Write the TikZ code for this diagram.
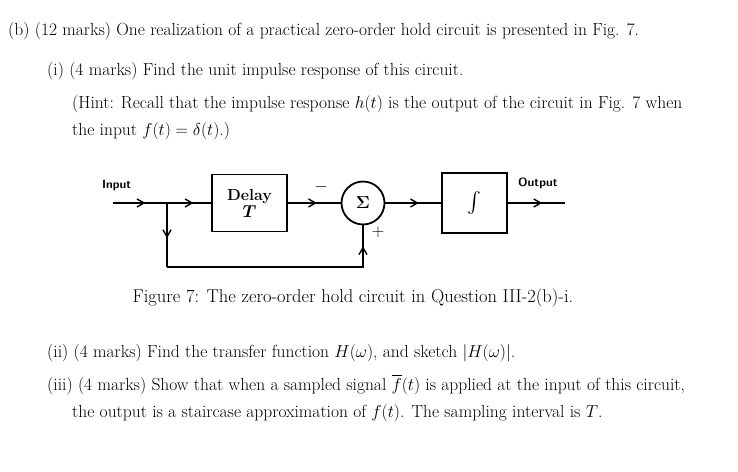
\documentclass[tikz,border=0pt]{standalone}
\usepackage{amsmath}
\usetikzlibrary{arrows.meta,decorations.markings}
\begin{document}
\begin{tikzpicture}[x=1pt,y=-1pt,
 txt/.style={anchor=base west,inner sep=0,font=\fontsize{17.5}{19}\selectfont},
 blk/.style={draw,line width=1.8pt,minimum width=#1,inner sep=0},
 lbl/.style={font=\sffamily\bfseries\fontsize{12}{12}\selectfont,inner sep=0},
 wire/.style={line width=1.6pt},
 mid/.style={postaction={decorate},decoration={markings,mark=at position #1 with {\arrow{Straight Barb[length=7pt,width=8pt,line width=1.4pt]}}}}]
\useasboundingbox (0,0) rectangle (738,471);
\fill[white] (0,0) rectangle (738,471);
\node[txt] (l1) at (8,35) {(b) (12 marks) One realization of a practical zero-order hold circuit is presented in Fig. 7.};
\node[txt] (l2) at (47,75) {(i) (4 marks) Find the unit impulse response of this circuit.};
\node[txt] (l3) at (72,108) {(Hint: Recall that the impulse response $h(t)$ is the output of the circuit in Fig. 7 when};
\node[txt] (l4) at (72,135) {the input $f(t)=\delta(t)$.)};
\node[txt,anchor=base,font=\fontsize{18.5}{19}\selectfont] (cap) at (353,302) {Figure 7: The zero-order hold circuit in Question III-2(b)-i.};
\node[txt] (l5) at (47,357) {(ii) (4 marks) Find the transfer function $H(\omega)$, and sketch $|H(\omega)|$.};
\node[txt] (l6) at (47,390) {(iii) (4 marks) Show that when a sampled signal $\overline{f}(t)$ is applied at the input of this circuit,};
\node[txt] (l7) at (72,417) {the output is a staircase approximation of $f(t)$. The sampling interval is $T$.};
% diagram
\coordinate (in) at (113,203);
\coordinate (br) at (167,203);
\node[blk=75pt,minimum height=57pt,align=center,font=\bfseries\fontsize{16}{16}\selectfont] (d) at (249.5,203) {Delay\\[1pt]$\boldsymbol{T}$};
\node[draw,circle,line width=1.8pt,minimum size=43pt,inner sep=0,font=\fontsize{18}{18}\selectfont] (s) at (363,203) {$\boldsymbol{\Sigma}$};
\node[blk=65pt,minimum height=60pt,font=\fontsize{20}{20}\selectfont] (g) at (474.5,203) {$\int$};
\coordinate (out) at (565,203);
\coordinate (bl) at (167,267);
\node[lbl,anchor=base west] (inl) at (102,188) {Input};
\node[lbl,anchor=base west] (outl) at (518,186) {Output};
\node[inner sep=0,font=\bfseries\fontsize{16}{16}\selectfont] (mn) at (321,187) {$-$};
\node[inner sep=0,font=\bfseries\fontsize{16}{16}\selectfont] (pl) at (378,232) {$+$};
\draw[wire,mid=0.6] (in) -- (br);
\draw[wire,mid=0.6] (br) -- (d.west);
\draw[wire,mid=0.55] (d.east) -- (s.west);
\draw[wire,mid=0.6] (s.east) -- (g.west);
\draw[wire,mid=0.6] (g.east) -- (out);
\draw[wire,mid=0.55] (br) -- (bl);
\draw[wire] (bl) -| (s.south);
\draw[wire,mid=0.5] (s.south |- bl) -- (s.south);
\end{tikzpicture}
\end{document}
